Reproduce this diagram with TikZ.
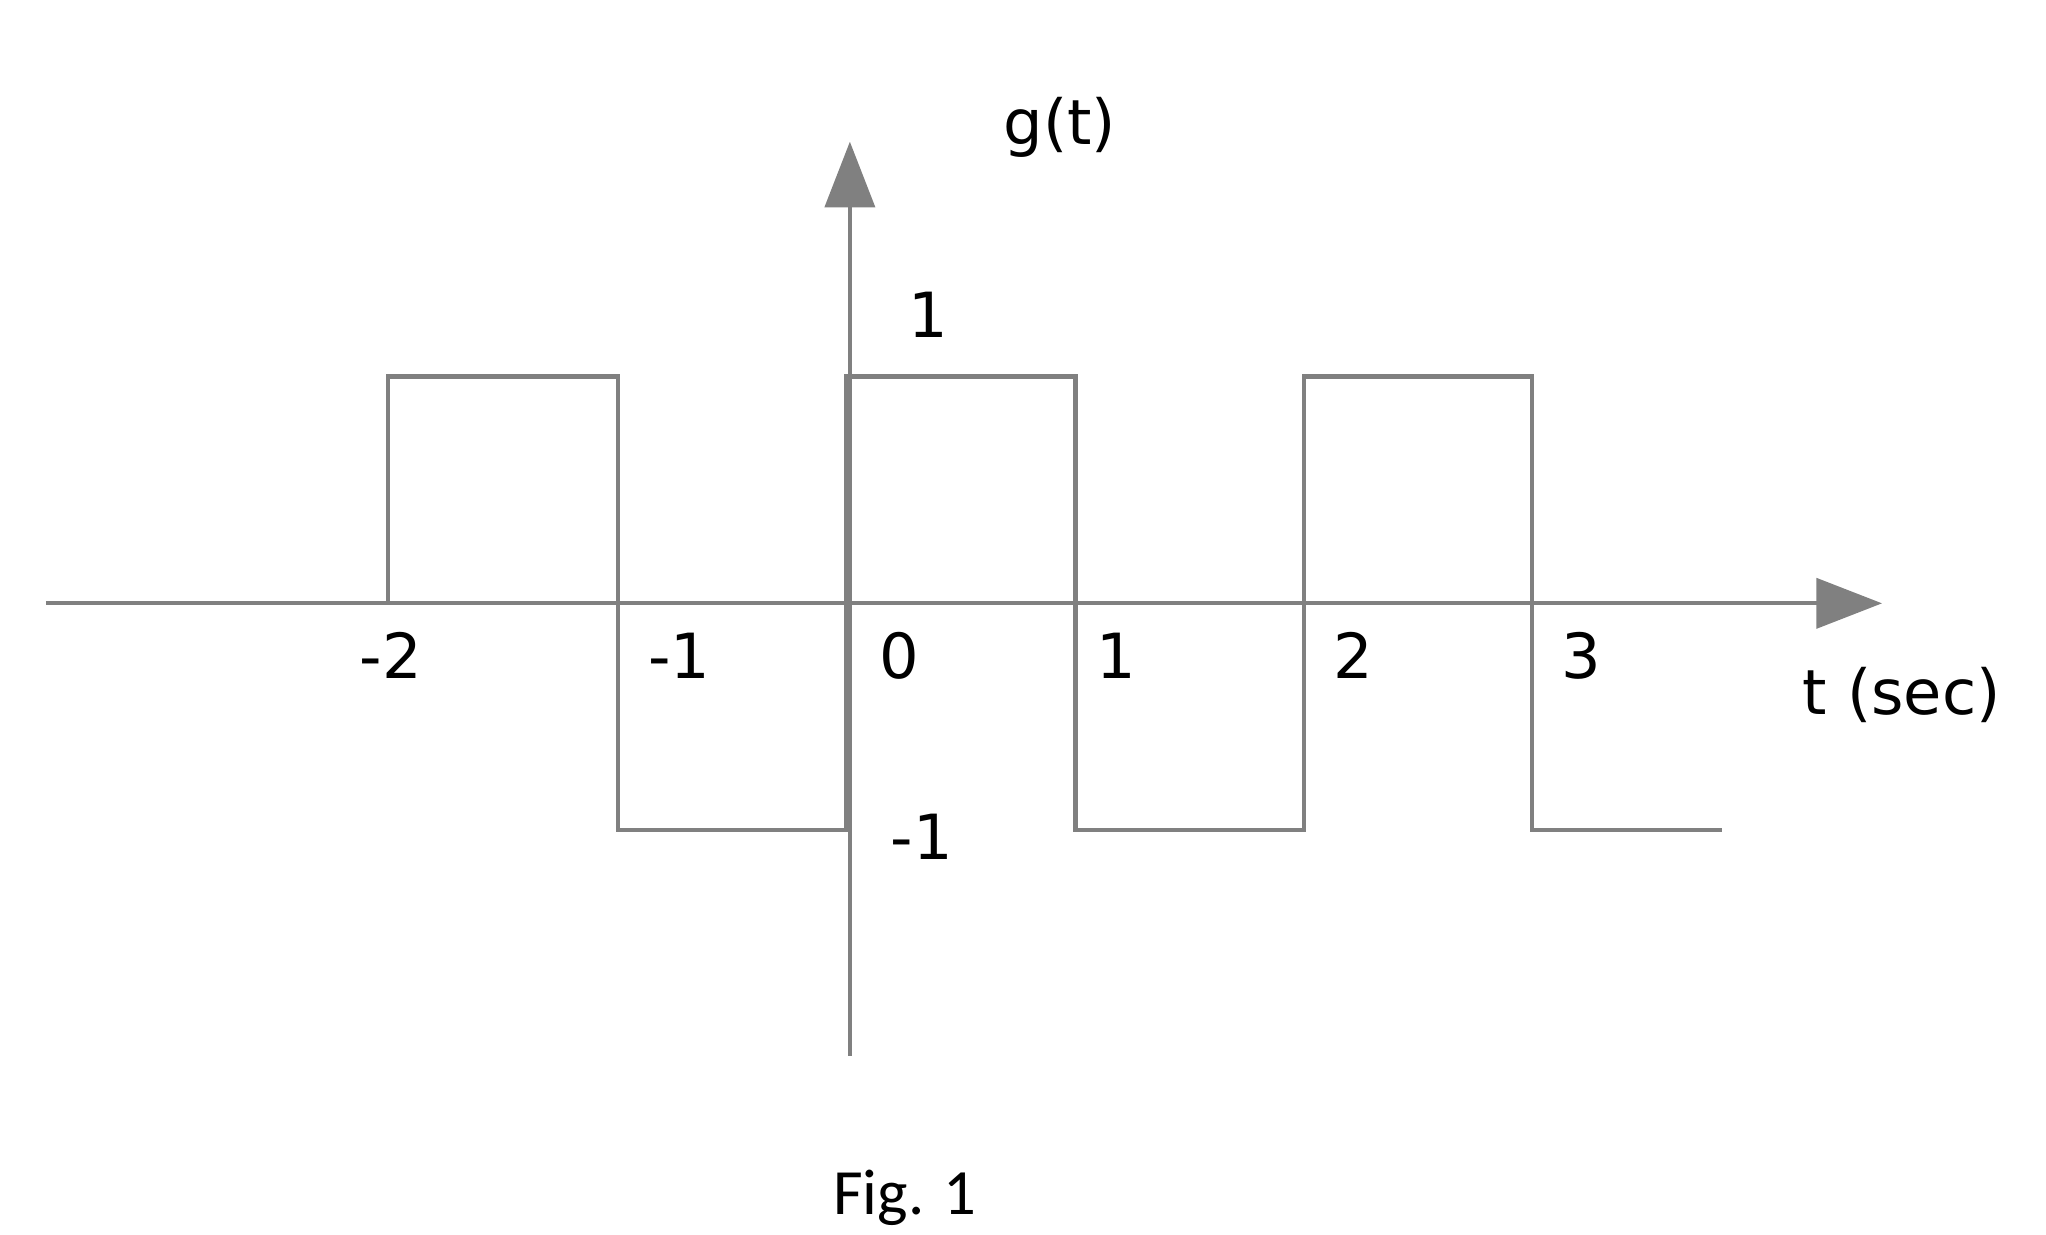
\documentclass[tikz,border=0pt]{standalone}
\usepackage{fontspec}
\setmainfont{DejaVu Sans}
\newfontfamily\capfont{Carlito}
\usetikzlibrary{arrows.meta}
\definecolor{ax}{HTML}{808080}
\begin{document}
\begin{tikzpicture}[x=0.01cm,y=-0.01cm,
  line/.style={draw=ax,line width=0.9pt},
  lbl/.style={font=\fontsize{13.5}{16}\selectfont,inner sep=0pt},
  arr/.style={-{Triangle[length=0.5cm,width=0.38cm]},line/.append style={}}]
\useasboundingbox (0,0) rectangle (1560,941);
\coordinate (xs) at (35,460); \coordinate (xe) at (1435,460);
\coordinate (ys) at (648,805); \coordinate (ye) at (648,108);
\draw[draw=ax,line width=0.9pt,-{Triangle[length=0.5cm,width=0.38cm]},ax] (xs) -- (xe);
\draw[draw=ax,line width=0.9pt,-{Triangle[length=0.5cm,width=0.38cm]},ax] (ys) -- (ye);
\draw[line] (296,460) -- (296,287) -- (471,287) -- (471,633) -- (645,633) -- (645,287)
  -- (820,287) -- (820,633) -- (994,633) -- (994,287) -- (1168,287) -- (1168,633) -- (1313,633);
\node[lbl] (g) at (808,97) {g(t)};
\node[lbl] (one) at (708,240) {1};
\node[lbl] (mone) at (703,638) {-1};
\node[lbl] (t0) at (298,500) {-2};
\node[lbl] (t1) at (518,500) {-1};
\node[lbl] (t2) at (686,500) {0};
\node[lbl] (t3) at (851,500) {1};
\node[lbl] (t4) at (1032,500) {2};
\node[lbl] (t5) at (1206,500) {3};
\node[lbl] (ts) at (1450,530) {t (sec)};
\node[inner sep=0pt,font=\capfont\fontsize{14}{16}\selectfont] (fig) at (690,913) {Fig. 1};
\end{tikzpicture}
\end{document}
